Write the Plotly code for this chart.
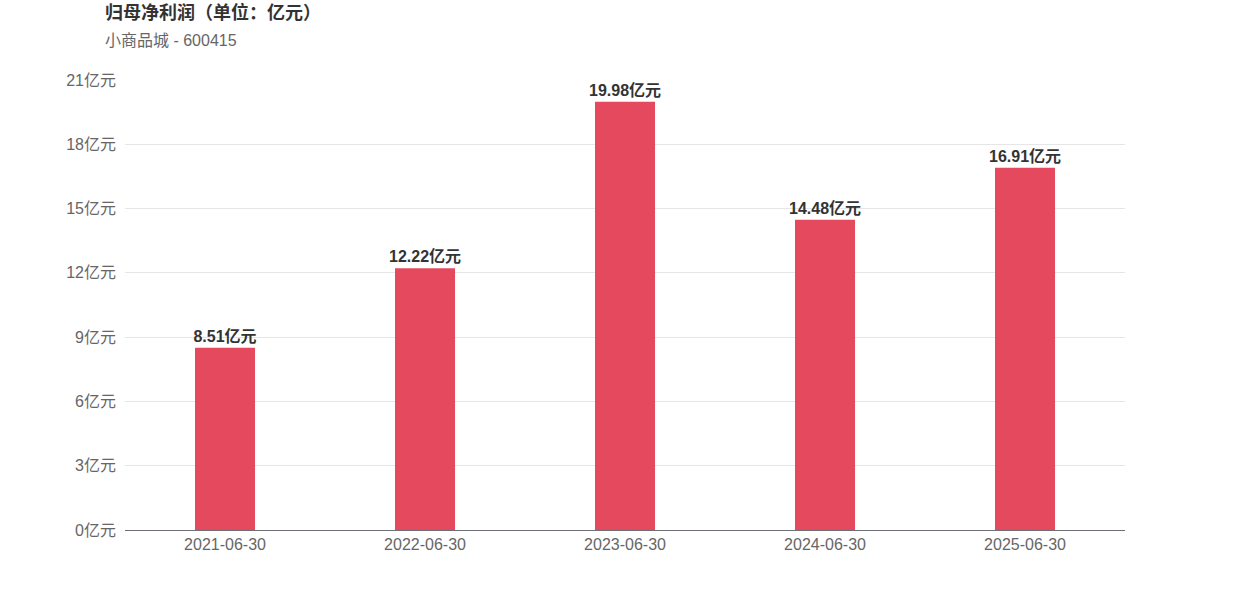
import plotly.graph_objects as go

dates = ["2021-06-30", "2022-06-30", "2023-06-30", "2024-06-30", "2025-06-30"]
profit = [8.51, 12.22, 19.98, 14.48, 16.91]
y_ticks = [0, 3, 6, 9, 12, 15, 18, 21]

FONT = "Liberation Sans, Arial, Noto Sans CJK SC, sans-serif"

fig = go.Figure(
    go.Bar(
        x=dates,
        y=profit,
        width=0.3,
        marker={"color": "#E5495D", "line": {"width": 0}},
        text=[f"{v:.2f}亿元" for v in profit],
        textposition="outside",
        constraintext="none",
        cliponaxis=False,
        textfont={"family": FONT, "size": 16, "color": "#333333", "weight": "bold"},
    )
)

fig.update_layout(
    width=1250,
    height=600,
    margin={"l": 125, "r": 125, "t": 80, "b": 70},
    paper_bgcolor="white",
    plot_bgcolor="white",
    font={"family": FONT, "size": 16, "color": "#666666"},
    showlegend=False,
)

fig.update_xaxes(
    type="category",
    showline=True,
    linecolor="#6E7079",
    linewidth=1,
    ticks="",
    showgrid=False,
    tickfont={"size": 16, "color": "#666666"},
)
fig.update_yaxes(
    range=[0, 21],
    tickvals=y_ticks,
    ticktext=[f"{v}亿元" for v in y_ticks],
    showgrid=True,
    gridcolor="#E6E6E6",
    gridwidth=1,
    zeroline=False,
    showline=False,
    ticks="",
    ticklabelstandoff=8,
    tickfont={"size": 16, "color": "#666666"},
)

fig.add_annotation(
    text="<b>归母净利润（单位：亿元）</b>",
    xref="paper", yref="paper", x=0, y=1,
    xshift=-22, yshift=68,
    xanchor="left", yanchor="middle",
    showarrow=False,
    font={"size": 18, "color": "#333333"},
)
fig.add_annotation(
    text="小商品城 - 600415",
    xref="paper", yref="paper", x=0, y=1,
    xshift=-22, yshift=40,
    xanchor="left", yanchor="middle",
    showarrow=False,
    font={"size": 16, "color": "#666666"},
)

# drop the browser's default body margin so the figure sits at the page corner
fig.write_html(
    "out.html",
    config={"displayModeBar": False},
    post_script="document.body.style.margin='0';",
)
